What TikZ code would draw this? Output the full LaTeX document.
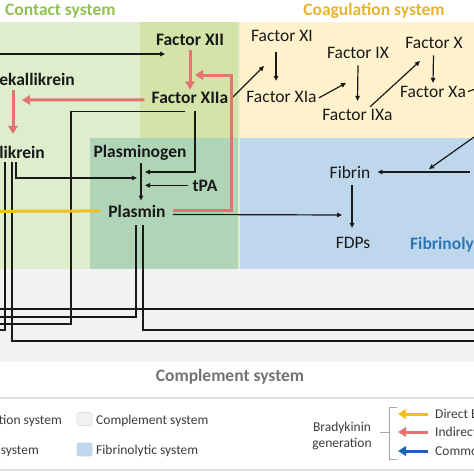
\documentclass[tikz,border=0pt]{standalone}
\usepackage{fontspec}
\setmainfont{Carlito}
\usetikzlibrary{arrows.meta}
\definecolor{txt}{RGB}{25,25,25}
\definecolor{ltxt}{RGB}{60,60,60}
\definecolor{cgreen}{RGB}{222,237,204}
\definecolor{cyg}{RGB}{213,227,168}
\definecolor{cyellow}{RGB}{255,242,204}
\definecolor{cblue}{RGB}{190,215,237}
\definecolor{cteal}{RGB}{176,213,182}
\definecolor{cgray}{RGB}{242,242,242}
\definecolor{tgreen}{RGB}{146,192,82}
\definecolor{tgold}{RGB}{232,180,45}
\definecolor{tblue}{RGB}{46,117,182}
\definecolor{tgray}{RGB}{115,115,115}
\definecolor{redc}{RGB}{229,115,115}
\definecolor{yelc}{RGB}{242,190,25}
\definecolor{bluec}{RGB}{25,100,180}
\definecolor{rulec}{RGB}{222,222,222}
\definecolor{brkc}{RGB}{165,165,165}
\begin{document}
\begin{tikzpicture}[x=1pt,y=-1pt,
  big/.style={inner sep=0pt,anchor=base,text=txt,font=\fontsize{17.5}{20}\selectfont},
  bigb/.style={inner sep=0pt,anchor=base,text=txt,font=\bfseries\fontsize{17.5}{20}\selectfont},
  ltext/.style={inner sep=0pt,text=ltxt,font=\fontsize{13.5}{15.5}\selectfont},
  blk/.style={line width=1.2pt,draw=txt,line join=miter},
  blkarr/.style={blk,-{Triangle[length=5pt,width=4.5pt]}},
  redarr/.style={line width=3pt,draw=redc,line join=miter,-{Triangle[length=8pt,width=9.5pt]}},
  yelarr/.style={line width=3pt,draw=yelc,-{Triangle[length=8pt,width=9.5pt]}},
  bluarr/.style={line width=3pt,draw=bluec,-{Triangle[length=8pt,width=9.5pt]}},
  lbox/.style={minimum width=15pt,minimum height=13pt,inner sep=0pt,rounded corners=2pt,draw=rulec,line width=0.6pt},
  legrule/.style={draw=rulec,line width=1.6pt},
  brkline/.style={draw=brkc,line width=0.8pt}]
\useasboundingbox (0,0) rectangle (474,474);
\clip (0,0) rectangle (474,474);
\fill[white] (0,0) rectangle (474,474);
% regions
\fill[cgray] (0,269) rectangle (474,362);
\fill[cgreen] (0,22) rectangle (240,269);
\fill[cyellow] (240,22) rectangle (474,138);
\fill[cyg] (140,22) rectangle (238,138);
\fill[cblue] (240,138) rectangle (474,269);
\fill[cteal] (90,138) rectangle (238,269);
% titles
\node[bigb,text=tgreen,anchor=base west] (tcon) at (5,15) {Contact system};
\node[bigb,text=tgold] (tcoa) at (374,15) {Coagulation system};
\node[bigb,text=tblue,anchor=base west] (tfib) at (410,249) {Fibrinolytic system};
\node[bigb,text=tgray] (tcom) at (230,381) {Complement system};
% factor nodes
\node[bigb] (xii) at (190,45) {Factor XII};
\node[bigb] (xiia) at (190,103) {Factor XIIa};
\node[bigb,anchor=base east] (pk) at (75,85) {Prekallikrein};
\node[bigb,anchor=base east] (kal) at (45,158) {Kallikrein};
\node[bigb] (plg) at (140,157) {Plasminogen};
\node[bigb] (tpa) at (205,191) {tPA};
\node[bigb] (pls) at (137,217) {Plasmin};
\node[big] (xi) at (282,41) {Factor XI};
\node[big] (xia) at (281.5,102) {Factor XIa};
\node[big] (ix) at (358,58) {Factor IX};
\node[big] (ixa) at (357.5,120) {Factor IXa};
\node[big] (fx) at (434,48) {Factor X};
\node[big] (fxa) at (433,97) {Factor Xa};
\node[big] (fib) at (350,178) {Fibrin};
\node[big] (fdp) at (353,248) {FDPs};
% named free ends and corners
\coordinate (l1s) at (-10,54);
\coordinate (l1e) at (165,54);
\coordinate (pkin) at (22,100);
\coordinate (fbcorner) at (231,75);
\coordinate (fbtip) at (195,75);
\coordinate (yelend) at (-25,211.4);
\coordinate (c71) at (71,324);
\coordinate (w324) at (-10,324);
\coordinate (s172) at (145,172);
\coordinate (s178) at (137,178);
\coordinate (w330) at (-10,330);
\coordinate (e341) at (484,341);
\coordinate (w317) at (-10,317);
\coordinate (e330) at (484,330);
\coordinate (w309) at (-10,309);
\coordinate (e309) at (484,309);
\coordinate (fdpin) at (342,215);
\coordinate (fibsrc) at (470,172);
\coordinate (thr) at (484,130);
\coordinate (thrtip) at (429,169);
\coordinate (xiact) at (264,66);
\coordinate (ixact) at (346,83);
\coordinate (xact) at (420,61);
\coordinate (xaout) at (488,85);
% black connectors
\draw[blkarr] (l1s) -- (l1e);
\draw[blk] ([xshift=-5pt,yshift=-8pt]xiia.south) -| (c71) -- (w324);
\draw[blkarr] ([xshift=5pt,yshift=-8pt]xiia.south) |- (s172);
\draw[blkarr] ([xshift=-4pt]tpa.west) -- (tpa.west -| s172);
\draw[blkarr] ([xshift=-29pt,yshift=-4pt]kal.south east) |- (s178);
\draw[blkarr] ([xshift=1pt,yshift=-3pt]plg.south) -- ([xshift=4pt,yshift=4pt]pls.north);
\draw[blk] ([xshift=-40pt,yshift=-4pt]kal.south east) |- (w330);
\draw[blk] ([xshift=-33pt,yshift=-4pt]kal.south east) |- (e341);
\draw[blk] ([xshift=-1pt,yshift=-8pt]pls.south) |- (w317);
\draw[blk] ([xshift=6pt,yshift=-8pt]pls.south) |- (e330);
\draw[blk] (w309) -- (e309);
\draw[blkarr] ([xshift=7pt,yshift=-3.5pt]pls.east) -- (fdpin);
\draw[blkarr] ([xshift=2pt,yshift=-7pt]fib.south) -- ([xshift=-1pt,yshift=8.7pt]fdp.north);
\draw[blkarr] (fibsrc |- fib.east) -- ([xshift=7pt]fib.east);
\draw[blkarr] (thr) -- (thrtip);
\draw[blkarr] ([xshift=4pt]xiia.east) -- (xiact);
\draw[blkarr] ([xshift=-6pt,yshift=-11pt]xi.south) -- ([xshift=-5.5pt,yshift=9.7pt]xia.north);
\draw[blkarr] ([xshift=2pt,yshift=-1.5pt]xia.east) -- (ixact);
\draw[blkarr] ([yshift=-7pt]ix.south) -- ([yshift=7.7pt]ixa.north);
\draw[blkarr] ([xshift=12.5pt,yshift=1.7pt]ixa.north) -- (xact);
\draw[blkarr] ([xshift=-0.5pt,yshift=-7pt]fx.south) -- ([yshift=2.7pt]fxa.north);
\draw[blk] ([xshift=2pt]fxa.east) -- (xaout);
% red and yellow connectors
\draw[redarr] ([yshift=-5pt]xii.south) -- ([yshift=2pt]xiia.north);
\draw[redarr] ([xshift=-7pt,yshift=-2.5pt]xiia.west) -- (pkin);
\draw[redarr] ([xshift=-62pt,yshift=-5pt]pk.south east) -- ([xshift=-32pt,yshift=11.7pt]kal.north east);
\draw[redarr] ([xshift=7pt]pls.east) -| (fbcorner) -- (fbtip);
\draw[yelarr] ([xshift=-8pt]pls.west) -- (yelend);
% legend
\draw[legrule] (0,398) -- (474,398);
\draw[legrule] (0,470) -- (474,470);
\node[lbox,fill=cgray] (bcom) at (84.5,419) {};
\node[lbox,fill=cblue,draw=cblue] (bfib) at (84.5,449.5) {};
\node[ltext,anchor=base east] (lcoa) at (62,424) {Coagulation system};
\node[ltext,anchor=base east] (lcon) at (39,454) {Contact system};
\node[ltext,anchor=base west] (lcom) at (96,424) {Complement system};
\node[ltext,anchor=base west] (lfib) at (96,454) {Fibrinolytic system};
\node[ltext,align=center] (brad) at (342,436) {Bradykinin\\generation};
\coordinate (brmid) at (389,432);
\draw[brkline] (brad.east |- brmid) ++(8,0) -- (brmid);
\draw[brkline] (397,407) -- (389,407) -- (389,459) -- (397,459);
\node[ltext,anchor=base west] (ldir) at (435,418.5) {Direct BK generation};
\node[ltext,anchor=base west] (lind) at (435,436.5) {Indirect BK generation};
\node[ltext,anchor=base west] (lcomm) at (435,455.5) {Common pathway};
\coordinate (ya) at (428,414);
\coordinate (ra) at (428,432);
\coordinate (ba) at (428,451);
\draw[yelarr] (ya) -- ++(-30,0);
\draw[redarr] (ra) -- ++(-30,0);
\draw[bluarr] (ba) -- ++(-30,0);
\end{tikzpicture}
\end{document}
